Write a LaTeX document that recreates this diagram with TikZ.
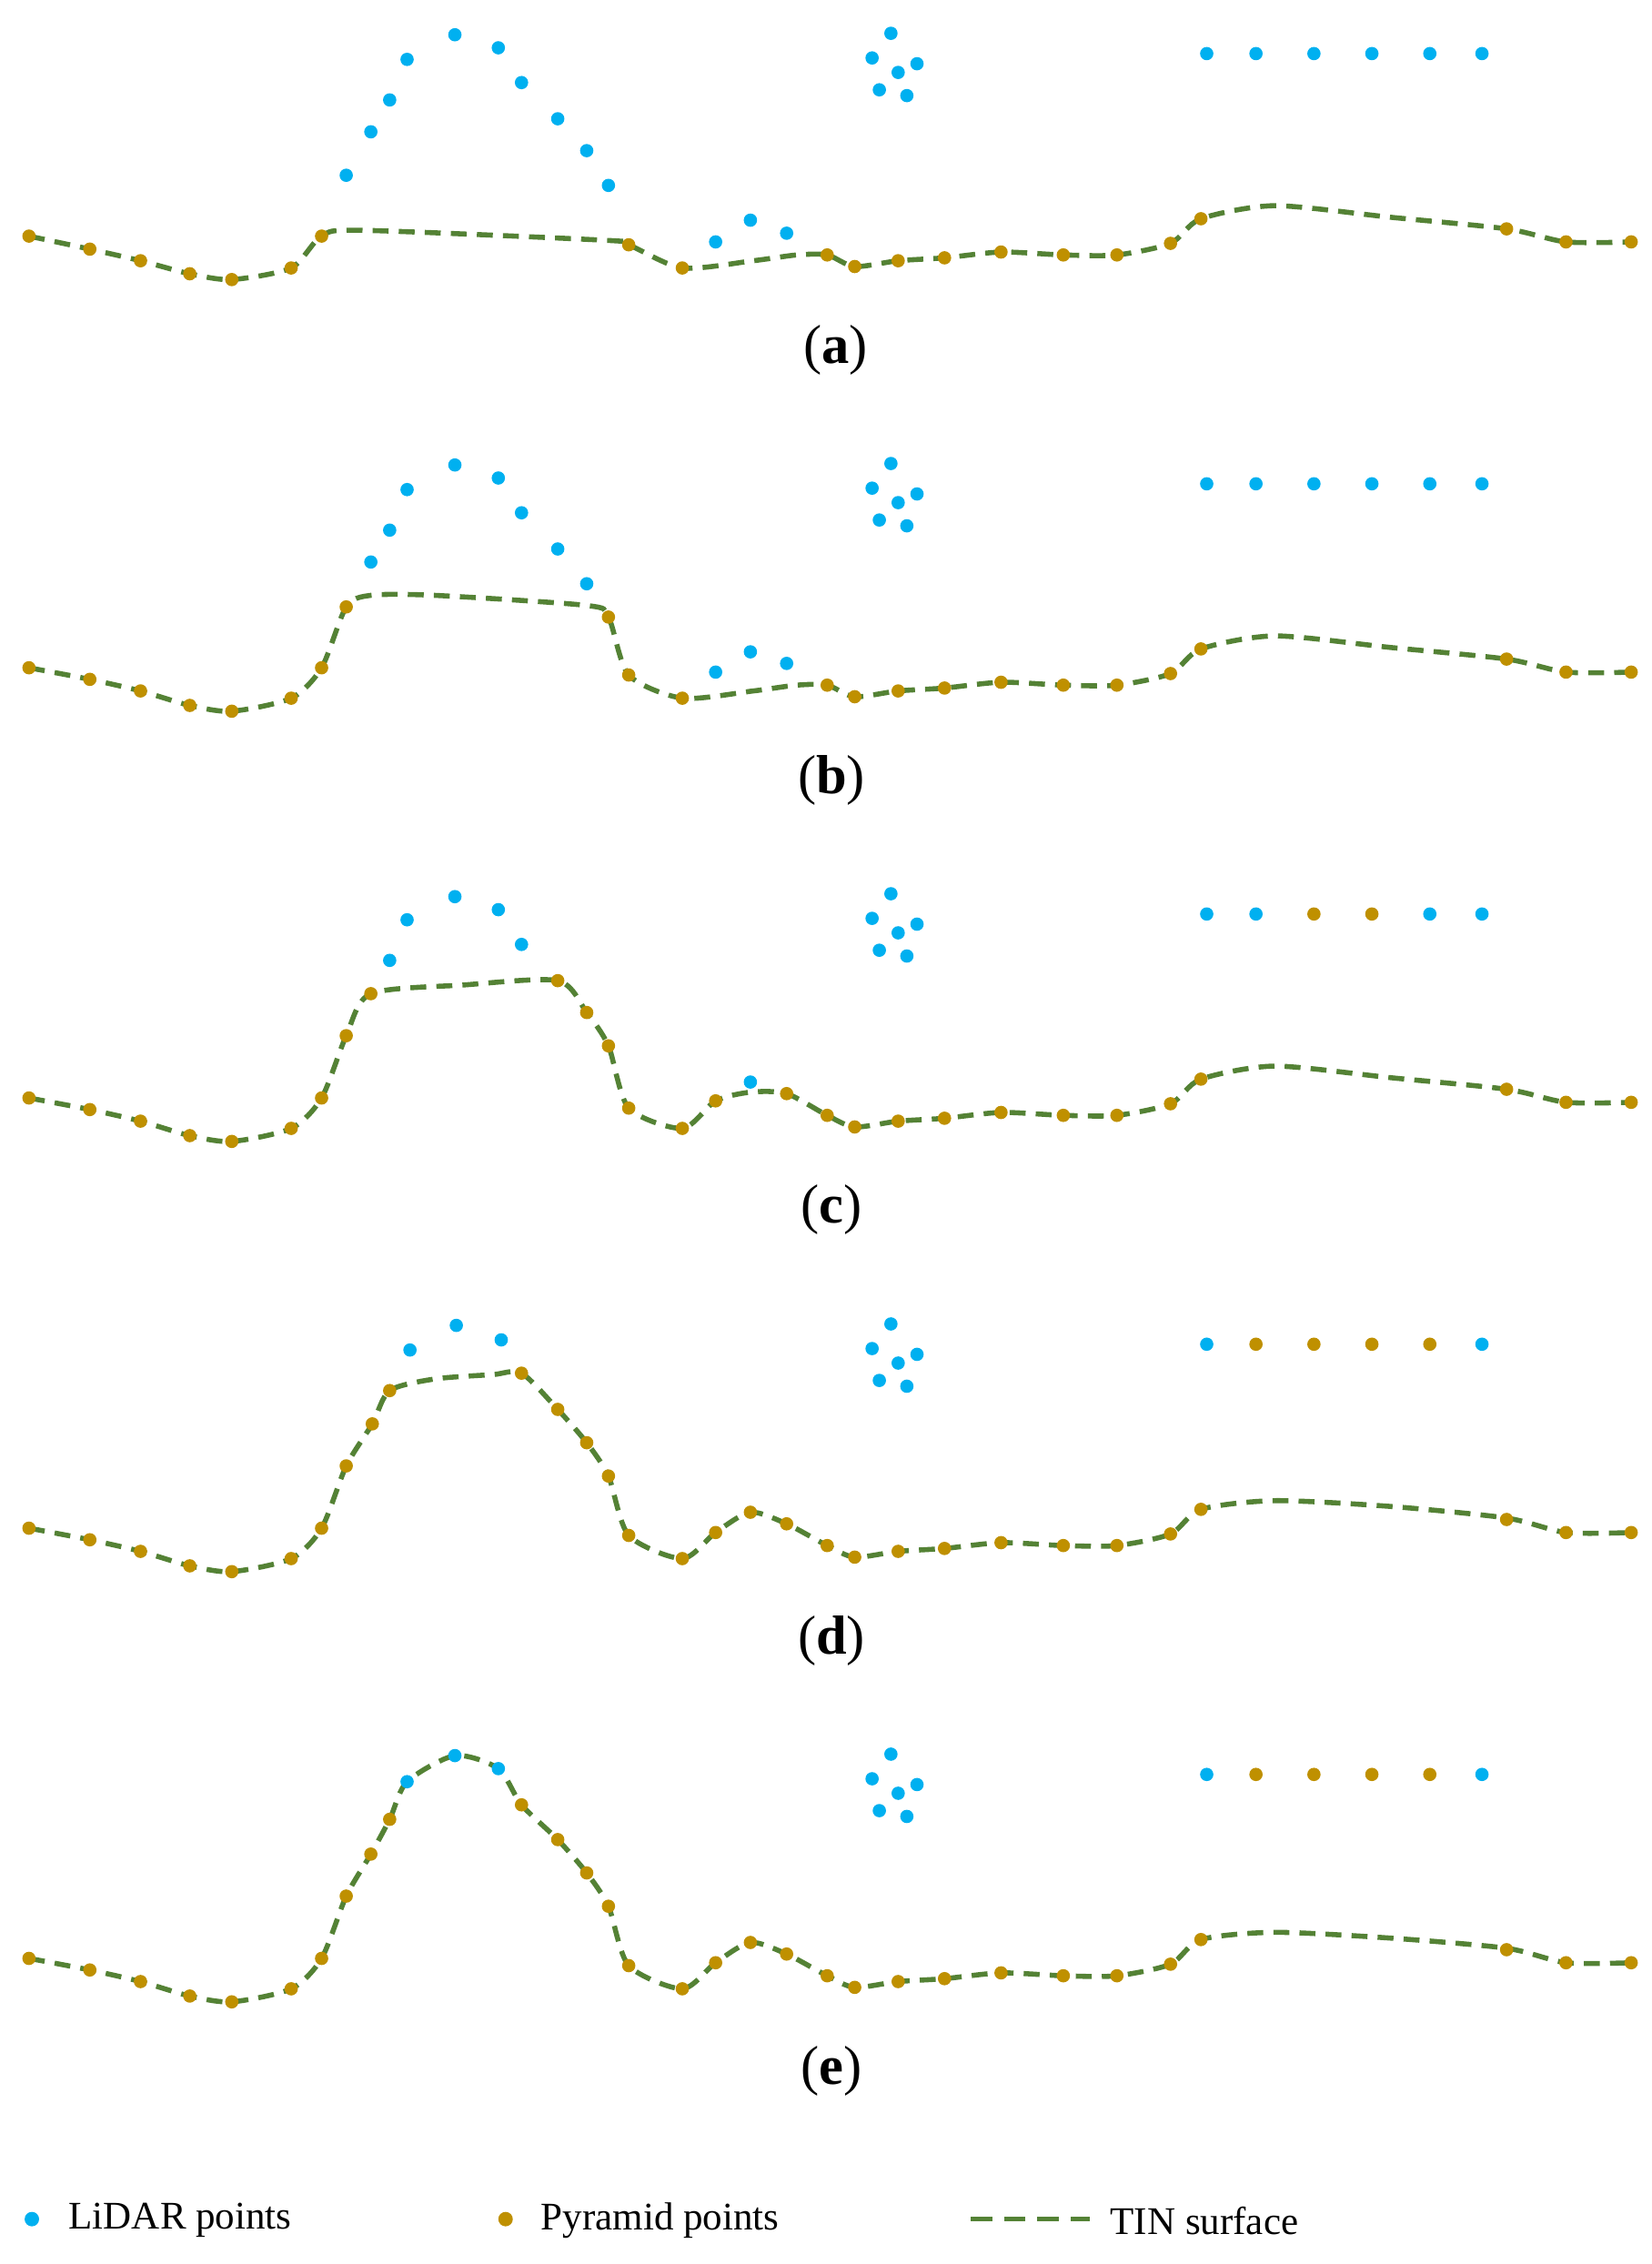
\documentclass[tikz,border=0pt]{standalone}
\usepackage{fontspec}
\setmainfont{Liberation Serif}
\begin{document}
\begin{tikzpicture}[x=1pt,y=-1pt]
\definecolor{lid}{HTML}{00B0F0}
\definecolor{pyr}{HTML}{BF9000}
\definecolor{tin}{HTML}{548235}
\tikzset{tinline/.style={tin,line width=3.5pt,dash pattern=on 11pt off 7pt},
 lab/.style={font=\fontsize{38}{44}\selectfont},
 leg/.style={anchor=west,font=\fontsize{27}{32}\selectfont}}
\useasboundingbox (0,0) rectangle (1140,1563);
\def\L#1{\edef\mylist{#1}\foreach \p in \mylist \fill[lid] \p circle (4.6);}
\def\P#1{\edef\mylist{#1}\foreach \p in \mylist \fill[pyr] \p circle (4.6);}
\def\Lcommon{(20,163),(62,172),(97,180),(131,189),(160,193),(201,185),(222,163)}
\def\Rcommon{(571,176),(590,184),(620,180),(652,178),(691,174),(734,176),(771,176),(808,168),(829,151),(1040,158),(1081,167),(1126,167)}
\def\clus{(615,23),(602,40),(633,44),(620,50),(607,62),(626,66)}
% (a)
\begin{scope}
\draw[tinline] plot[smooth,tension=0.45] coordinates {(20,163) (62,172) (97,180) (131,189) (160,193) (201,185) (222,163) (250,159) (420,166) (434,169) (471,185) (520,180) (550,176) (571,176) (590,184) (620,180) (652,178) (691,174) (734,176) (771,176) (808,168) (829,151) (880,142) (960,150) (1040,158) (1081,167) (1126,167)};
\L{(239,121),(256,91),(269,69),(281,41),(314,24),(344,33),(360,57),(385,82),(405,104),(420,128),(494,167),(518,152),(543,161)}
\L{\clus}
\L{(833,37),(867,37),(907,37),(947,37),(987,37),(1023,37)}
\P{\Lcommon} \P{\Rcommon} \P{(434,169),(471,185)}
\node[lab] at (577,242) {(\textbf{a})};
\end{scope}
% (b)
\begin{scope}[shift={(0,297)}]
\draw[tinline] plot[smooth,tension=0.45] coordinates {(20,164) (62,172) (97,180) (131,190) (160,194) (201,185) (222,164) (239,122) (256,114) (300,114) (405,121) (420,129) (434,169) (471,185) (520,180) (550,176) (571,176) (590,184) (620,180) (652,178) (691,174) (734,176) (771,176) (808,168) (829,151) (880,142) (960,150) (1040,158) (1081,167) (1126,167)};
\L{(256,91),(269,69),(281,41),(314,24),(344,33),(360,57),(385,82),(405,106),(494,167),(518,153),(543,161)}
\L{\clus}
\L{(833,37),(867,37),(907,37),(947,37),(987,37),(1023,37)}
\P{(20,164),(62,172),(97,180),(131,190),(160,194),(201,185),(222,164),(239,122),(420,129),(434,169),(471,185)} \P{\Rcommon}
\node[lab] at (574,242) {(\textbf{b})};
\end{scope}
% (c)
\begin{scope}[shift={(0,594)}]
\draw[tinline] plot[smooth,tension=0.45] coordinates {(20,164) (62,172) (97,180) (131,190) (160,194) (201,185) (222,164) (239,121) (256,92) (320,86) (385,83) (405,105) (420,128) (434,171) (471,185) (494,166) (518,160) (543,161) (571,176) (590,184) (620,180) (652,178) (691,174) (734,176) (771,176) (808,168) (829,151) (880,142) (960,150) (1040,158) (1081,167) (1126,167)};
\L{(269,69),(281,41),(314,25),(344,34),(360,58),(518,153)}
\L{\clus}
\L{(833,37),(867,37),(987,37),(1023,37)} \P{(907,37),(947,37)}
\P{(20,164),(62,172),(97,180),(131,190),(160,194),(201,185),(222,164),(239,121),(256,92),(385,83),(405,105),(420,128),(434,171),(471,185),(494,166),(543,161)} \P{\Rcommon}
\node[lab] at (574,241) {(\textbf{c})};
\end{scope}
% (d)
\begin{scope}[shift={(0,891)}]
\draw[tinline] plot[smooth,tension=0.45] coordinates {(20,164) (62,172) (97,180) (131,190) (160,194) (201,185) (222,164) (239,121) (257,92) (269,69) (300,61) (340,58) (360,57) (385,82) (405,105) (420,128) (434,169) (471,185) (494,167) (518,153) (543,161) (571,176) (590,184) (620,180) (652,178) (691,174) (734,176) (771,176) (808,168) (829,151) (880,145) (960,149) (1040,157) (1081,167) (1126,167)};
\L{(283,41),(315,24),(346,34)}
\L{\clus}
\L{(833,37),(1023,37)} \P{(867,37),(907,37),(947,37),(987,37)}
\P{(20,164),(62,172),(97,180),(131,190),(160,194),(201,185),(222,164),(239,121),(257,92),(269,69),(360,57),(385,82),(405,105),(420,128),(434,169),(471,185),(494,167),(518,153),(543,161)} \P{\Rcommon}
\node[lab] at (574,242) {(\textbf{d})};
\end{scope}
% (e)
\begin{scope}[shift={(0,1188)}]
\draw[tinline] plot[smooth,tension=0.45] coordinates {(20,164) (62,172) (97,180) (131,190) (160,194) (201,185) (222,164) (239,121) (256,92) (269,68) (281,42) (314,24) (344,33) (360,58) (385,82) (405,105) (420,128) (434,169) (471,185) (494,167) (518,153) (543,161) (571,176) (590,184) (620,180) (652,178) (691,174) (734,176) (771,176) (808,168) (829,151) (880,146) (960,150) (1040,157) (1081,167) (1126,167)};
\L{(281,42),(314,24),(344,33)}
\L{\clus}
\L{(833,37),(1023,37)} \P{(867,37),(907,37),(947,37),(987,37)}
\P{(20,164),(62,172),(97,180),(131,190),(160,194),(201,185),(222,164),(239,121),(256,92),(269,68),(360,58),(385,82),(405,105),(420,128),(434,169),(471,185),(494,167),(518,153),(543,161)} \P{\Rcommon}
\node[lab] at (574,242) {(\textbf{e})};
\end{scope}
% legend
\fill[lid] (22,1532) circle (5);
\node[leg] (l1) at (44,1533) {LiDAR points};
\fill[pyr] (349,1532) circle (5);
\node[leg] (l2) at (370,1533) {Pyramid points};
\draw[tinline,dash pattern=on 15pt off 8pt] (670,1532) -- (752,1532);
\node[leg] (l3) at (763,1533) {TIN surface};
\end{tikzpicture}
\end{document}
